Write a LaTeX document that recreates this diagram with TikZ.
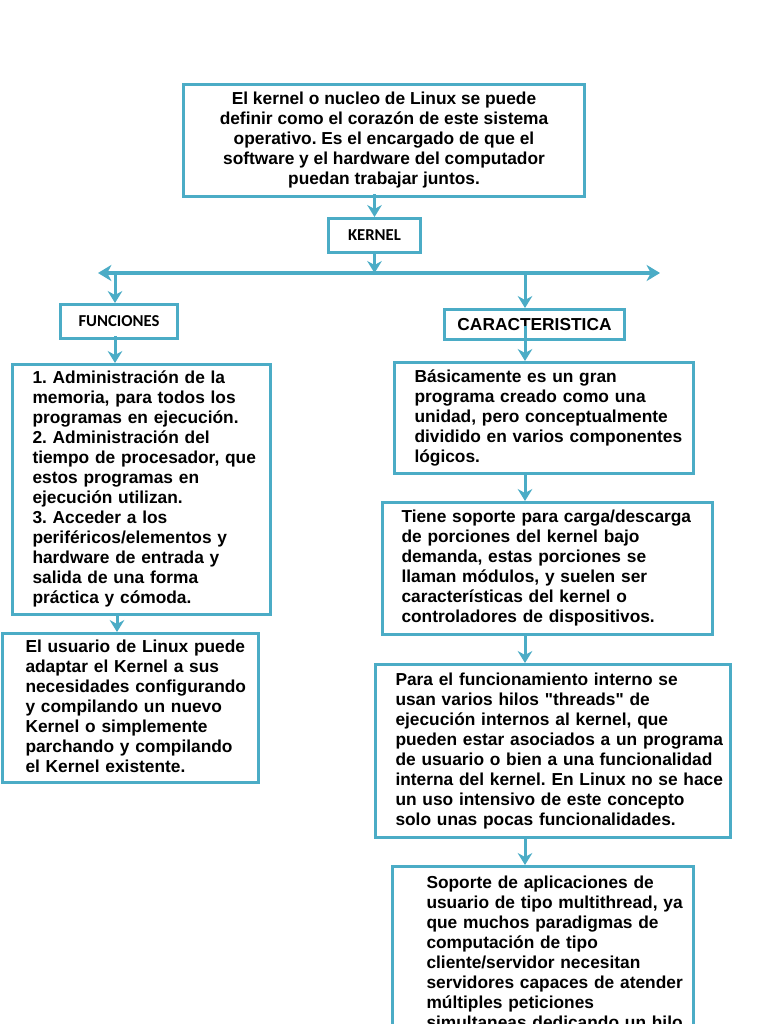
\documentclass[tikz,border=0pt]{standalone}
\usepackage{fontspec}
\setmainfont{Liberation Sans}[Ligatures=TeXOff]
\newfontfamily\carlito{Carlito}
\usepackage{tikz}
\usetikzlibrary{calc,positioning,arrows.meta,shapes}
\definecolor{azul}{HTML}{4BACC6}
\newlength\px
\setlength\px{0.75pt}
\newcommand\lineas[1]{\begin{tabular}{@{}l@{}}#1\end{tabular}}
\frenchspacing

\begin{document}
\begin{tikzpicture}[
			x=0.75pt,y=-0.75pt,
			caja/.style={rectangle,draw=azul,line width=2.25pt,anchor=north west,
					font=\bfseries\fontsize{13}{15}\selectfont,align=left},
			etiqueta/.style={caja,align=center,inner sep=0pt,font=\carlito\bfseries\fontsize{12.5}{15}\selectfont},
			flecha/.style={draw=azul,line width=2.25pt,-{Stealth[length=9pt,width=11pt,inset=3pt]}}
		]
		\useasboundingbox (0,0) rectangle (768,1024);
		\clip (0,0) rectangle (768,1024);
		% definicion
		\node[caja,align=center,inner sep=0pt,minimum width=401\px,minimum height=112\px] (nucleo) at (182,83)
		{El kernel o nucleo de Linux se puede\\
			definir como el corazón de este sistema\\
			operativo. Es el encargado de que el\\
			software y el hardware del computador\\
			puedan trabajar juntos.};
		\node[etiqueta,minimum width=92\px,minimum height=34\px] (kernel) at (327,217) {KERNEL};
		\coordinate (izq) at (98,273);
		\coordinate (der) at (660,273);
		\coordinate (bf) at (115,273);
		\coordinate (bc) at (525,273);
		% funciones
		\node[etiqueta,minimum width=117\px,minimum height=34\px] (funciones) at (59,303) {FUNCIONES};
		\node[caja,inner xsep=20\px,text width=218\px,minimum height=250\px] (fun1) at (11,363)
		{\lineas{1. Administración de la\\
			memoria, para todos los\\
			programas en ejecución.\\
			2. Administración del\\
			tiempo de procesador, que\\
			estos programas en\\
			ejecución utilizan.\\
			3. Acceder a los\\
			periféricos/elementos y\\
			hardware de entrada y\\
			salida de una forma\\
			práctica y cómoda.}};
		\node[caja,inner xsep=23\px,text width=210\px,minimum height=149\px] (usuario) at (1,632)
		{\lineas{El usuario de Linux puede\\
			adaptar el Kernel a sus\\
			necesidades configurando\\
			y compilando un nuevo\\
			Kernel o simplemente\\
			parchando y compilando\\
			el Kernel existente.}};
		% caracteristicas
		\node[caja,align=center,inner sep=0pt,minimum width=180\px,minimum height=30\px] (caracteristica) at (443,308) {CARACTERISTICA};
		\node[caja,inner xsep=20\px,text width=259\px,minimum height=111\px] (car1) at (393,361)
		{\lineas{Básicamente es un gran\\
			programa creado como una\\
			unidad, pero conceptualmente\\
			dividido en varios componentes\\
			lógicos.}};
		\node[caja,inner xsep=19\px,text width=292\px,minimum height=132\px] (car2) at (381,501)
		{\lineas{Tiene soporte para carga/descarga\\
			de porciones del kernel bajo\\
			demanda, estas porciones se\\
			llaman módulos, y suelen ser\\
			características del kernel o\\
			controladores de dispositivos.}};
		\node[caja,inner xsep=20\px,text width=315\px,minimum height=173\px] (car3) at (374,663)
		{\lineas{Para el funcionamiento interno se\\
			usan varios hilos "threads" de\\
			ejecución internos al kernel, que\\
			pueden estar asociados a un programa\\
			de usuario o bien a una funcionalidad\\
			interna del kernel. En Linux no se hace\\
			un uso intensivo de este concepto\\
			solo unas pocas funcionalidades.}};
		\node[caja,inner xsep=34\px,inner ysep=8\px,text width=233\px] (car4) at (391,865)
		{\lineas{Soporte de aplicaciones de\\
			usuario de tipo multithread, ya\\
			que muchos paradigmas de\\
			computación de tipo\\
			cliente/servidor necesitan\\
			servidores capaces de atender\\
			múltiples peticiones\\
			simultaneas dedicando un hilo}};
		% conectores
		\draw[flecha] ([yshift=4\px]nucleo.south -| kernel) -- (kernel);
		\draw[flecha] (kernel) -- (kernel |- izq);
		\draw[flecha,line width=3pt,{Stealth[length=10pt,width=12pt,inset=3pt]}-{Stealth[length=10pt,width=12pt,inset=3pt]}] (izq) -- (der);
		\draw[flecha] (bf) -- (bf |- funciones.north);
		\draw[flecha] ([yshift=4\px]funciones.south -| bf) -- (fun1.north -| bf);
		\draw[flecha] ([xshift=2\px]fun1.south -| bf) -- ([xshift=2\px]usuario.north -| bf);
		\draw[flecha] (bc) -- (bc |- caracteristica.north);
		\draw[flecha] ([yshift=-1\px]caracteristica.center -| bc) -- (car1.north -| bc);
		\draw[flecha] (car1.south -| bc) -- (car2.north -| bc);
		\draw[flecha] (car2.south -| bc) -- (car3.north -| bc);
		\draw[flecha] (car3.south -| bc) -- (car4.north -| bc);
	\end{tikzpicture}
\end{document}
